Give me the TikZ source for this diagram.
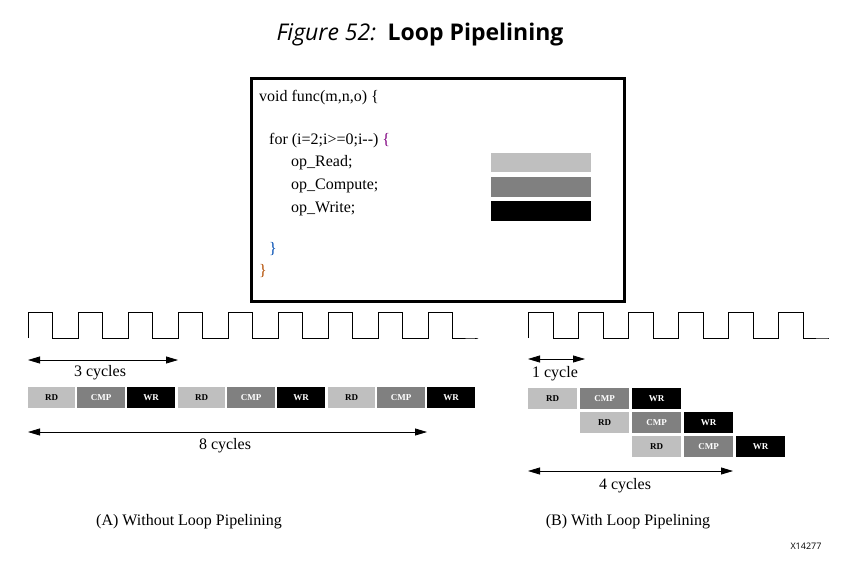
\documentclass[tikz,border=0pt]{standalone}
\usepackage{fontspec}
\setmainfont{Liberation Serif}
\newfontfamily\sans{Open Sans}
\usetikzlibrary{arrows.meta}
\definecolor{lg}{gray}{0.75}
\definecolor{mg}{gray}{0.5}
\begin{document}
\begin{tikzpicture}[x=1pt,y=-1pt,
  blk/.style={draw=none,minimum height=21pt,inner sep=0pt,font=\fontsize{9}{10}\selectfont\bfseries,anchor=north west},
  rd/.style={blk,fill=lg,text=black},
  cmp/.style={blk,fill=mg,text=white},
  wr/.style={blk,fill=black,text=white},
  dim/.style={{Triangle[length=12pt,width=7pt]}-{Triangle[length=12pt,width=7pt]},line width=0.8pt},
  lbl/.style={font=\fontsize{16}{18}\selectfont},
  code/.style={font=\fontsize{16}{18}\selectfont,anchor=west,inner sep=0pt}]
\useasboundingbox (0,0) rectangle (859,563);
\node (title) at (420,35) {\sans\fontsize{23}{26}\selectfont\textit{Figure 52:}\enspace\textbf{Loop Pipelining}};
\node[draw,line width=3pt,minimum width=373pt,minimum height=223pt,anchor=north west] (box) at (250,77) {};
\node[code] (c1) at (259,98) {void func(m,n,o) \{};
\node[code] (c2) at (269,141) {for (i=2;i>=0;i-{}-) \textcolor[rgb]{0.5,0,0.5}{\{}};
\node[code] (c3) at (291,163) {op\_Read;};
\node[code] (c4) at (291,186) {op\_Compute;};
\node[code] (c5) at (291,209) {op\_Write;};
\node[code] (c6) at (269,249) {\textcolor[rgb]{0,0.3,0.7}{\}}};
\node[code] (c7) at (259,271) {\textcolor[rgb]{0.7,0.3,0}{\}}};
\node[fill=lg,minimum width=100pt,minimum height=19pt,anchor=north west,inner sep=0pt] (b1) at (491,153) {};
\node[fill=mg,minimum width=100pt,minimum height=20pt,anchor=north west,inner sep=0pt] (b2) at (491,177) {};
\node[fill=black,minimum width=100pt,minimum height=20pt,anchor=north west,inner sep=0pt] (b3) at (491,201) {};
% left clock
\draw[line width=1pt] (28,338) foreach \i in {0,...,8} {-- ++(0,-26) -- ++(24,0) -- ++(0,26) -- ++(26,0)} -- (475,338);
% right clock
\draw[line width=1pt] (528,338) foreach \i in {0,...,5} {-- ++(0,-26) -- ++(25,0) -- ++(0,26) -- ++(25,0)} -- (829,338);
% left blocks
\foreach \k in {0,1,2}{
  \node[rd,minimum width=47pt] (lrd\k) at (28+150*\k,387) {RD};
  \node[cmp,minimum width=48pt] (lcmp\k) at (77+150*\k,387) {CMP};
  \node[wr,minimum width=48pt] (lwr\k) at (127+150*\k,387) {WR};
}
\coordinate (a3l) at (28,360); \coordinate (a3r) at (178,360);
\draw[dim] (a3l) -- (a3r);
\node[lbl] (t3) at (100,373) {3 cycles};
\coordinate (a8l) at (28,432); \coordinate (a8r) at (427,432);
\draw[dim] (a8l) -- (a8r);
\node[lbl] (t8) at (225,446) {8 cycles};
% right blocks
\foreach \k in {0,1,2}{
  \node[rd,minimum width=49pt] (rrd\k) at (528+52*\k,388+24*\k) {RD};
  \node[cmp,minimum width=49pt] (rcmp\k) at (580+52*\k,388+24*\k) {CMP};
  \node[wr,minimum width=49pt] (rwr\k) at (632+52*\k,388+24*\k) {WR};
}
\coordinate (a1l) at (528,359); \coordinate (a1r) at (585,359);
\draw[dim] (a1l) -- (a1r);
\node[lbl] (t1) at (555,374) {1 cycle};
\coordinate (a4l) at (528,471); \coordinate (a4r) at (733,471);
\draw[dim] (a4l) -- (a4r);
\node[lbl] (t4) at (625,486) {4 cycles};
\node[lbl] (capA) at (189,522) {(A) Without Loop Pipelining};
\node[lbl] (capB) at (628,522) {(B) With Loop Pipelining};
\node[font=\sans\fontsize{9}{10}\selectfont] (id) at (806,546) {X14277};
\end{tikzpicture}
\end{document}
